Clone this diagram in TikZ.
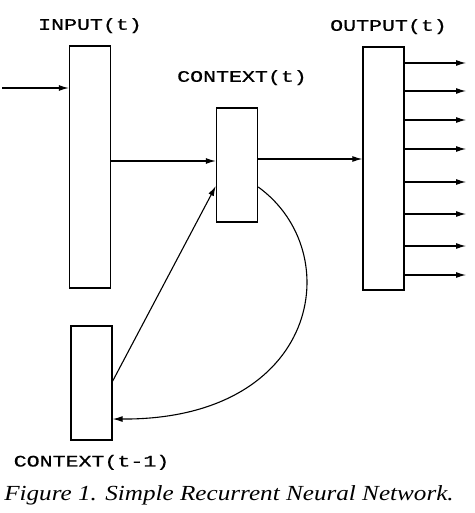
\documentclass[tikz,border=0pt]{standalone}
\usepackage{fontspec}
\setmainfont{Liberation Serif}
\newfontfamily\lblfont[FakeStretch=1.35, FakeBold=0.8]{Liberation Mono}
\newfontfamily\capfont[FakeStretch=1.17]{Liberation Serif}
\usetikzlibrary{arrows.meta, positioning}

\begin{document}
\begin{tikzpicture}[x=1pt, y=-1pt, node distance=12pt,
    unit/.style={rectangle, draw, line width=1.4pt, inner sep=0pt, minimum width=41pt},
    lbl/.style={font=\lblfont\fontsize{16}{16}\selectfont, inner sep=0pt},
    arrow/.style={-{Latex[length=10pt, width=6pt]}, line width=1.1pt}]
    \useasboundingbox (0,0) rectangle (474,513);
    \node[unit, minimum height=242pt] (inp) at (90,167) {};
    \node[unit, minimum height=114pt] (ctx) at (237,165) {};
    \node[unit, minimum height=243pt] (out) at (383.5,168.5) {};
    \node[unit, minimum height=114pt] (ctxold) at (91.5,383) {};
    \node[lbl, above=12pt of inp] (inplbl) {INPUT(t)};
    \node[lbl, above=22pt of ctx, xshift=5pt] (ctxlbl) {CONTEXT(t)};
    \node[lbl, above=12pt of out, xshift=5pt] (outlbl) {OUTPUT(t)};
    \node[lbl, below=14pt of ctxold] (oldlbl) {CONTEXT(t-1)};
    \coordinate (src) at (2,88);
    \draw[arrow] (src) -- (src -| inp.west);
    \draw[arrow] ([yshift=4pt]ctx.west -| inp.east) -- ([yshift=4pt]ctx.west);
    \draw[arrow] ([yshift=6pt]ctx.east) -- ([yshift=6pt]ctx.east -| out.west);
    \foreach \i/\y in {1/63, 2/91, 3/120, 4/149, 5/182, 6/214, 7/246, 8/275} {
        \coordinate (o\i) at (466,\y);
        \draw[arrow] (out.east |- o\i) -- (o\i);
    }
    \draw[arrow] ([yshift=2pt]ctxold.east) -- ([yshift=-21pt]ctx.west);
    \draw[arrow] ([yshift=-22pt]ctx.east) .. controls +(90,65) and +(207,1) .. ([yshift=-36pt]ctxold.east);
    \node[font=\capfont\itshape\fontsize{21.5}{21.5}\selectfont, inner sep=0pt] (caption) at (229,495) {Figure 1. Simple Recurrent Neural Network.};
\end{tikzpicture}
\end{document}
